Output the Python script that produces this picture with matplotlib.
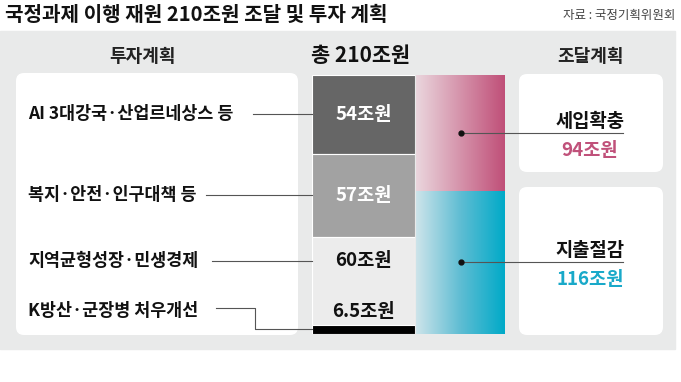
import matplotlib.pyplot as plt
import numpy as np
from matplotlib.patches import FancyBboxPatch, Rectangle
from matplotlib.colors import LinearSegmentedColormap
from matplotlib.transforms import blended_transform_factory

plt.rcParams['font.family'] = ['Noto Sans CJK KR', 'DejaVu Sans']

# data
invest_labels = ["AI 3대강국·산업르네상스 등", "복지·안전·인구대책 등", "지역균형성장·민생경제", "K방산·군장병 처우개선"]
invest_values = [54, 57, 60, 6.5]
invest_text = ["54조원", "57조원", "60조원", "6.5조원"]
fund_labels = ["세입확충", "지출절감"]
fund_values = [94, 116]
fund_text = ["94조원", "116조원"]

W, H = 681, 382
fig = plt.figure(figsize=(W / 100, H / 100), dpi=100)
fig.patch.set_facecolor("white")

bg = fig.add_axes([0, 0, 1, 1])
bg.set_xlim(0, W)
bg.set_ylim(H, 0)
bg.axis("off")


def px_axes(x0, y0, x1, y1):
    return fig.add_axes([x0 / W, 1 - y1 / H, (x1 - x0) / W, (y1 - y0) / H])


# panels
bg.add_patch(Rectangle((0, 31), 675, 318, color="#e9eaea", zorder=0))
for (x0, y0, x1, y1) in [(16, 73, 298, 335), (519, 74, 663, 172), (519, 187, 663, 335)]:
    bg.add_patch(FancyBboxPatch((x0, y0), x1 - x0, y1 - y0,
                                boxstyle="round,pad=0,rounding_size=8",
                                fc="white", ec="none", zorder=1))

# left stacked bar
axL = px_axes(312, 75, 415, 334)
axL.axis("off")
totalL = sum(invest_values)
axL.set_xlim(-0.5, 0.5)
axL.set_ylim(totalL, 0)
seg_colors = ["#666666", "#a2a2a2", "#ececec", "#000000"]
txt_colors = ["white", "white", "#111111", "#111111"]
bottoms = np.concatenate([[0], np.cumsum(invest_values)[:-1]])
axL.bar([0] * 4, invest_values, bottom=bottoms, width=1.0, color=seg_colors,
        edgecolor="white", linewidth=0.8)

# right gradient bar
axR = px_axes(416, 75, 505, 334)
axR.axis("off")
totalR = sum(fund_values)
cmaps = [LinearSegmentedColormap.from_list("p", ["#ead6dd", "#c04f78"]),
         LinearSegmentedColormap.from_list("b", ["#cde4ea", "#5fbdd3", "#00aac8"])]
grad = np.linspace(0, 1, 256).reshape(1, -1)
fb = np.concatenate([[0], np.cumsum(fund_values)[:-1]])
bars = axR.bar([0, 0], fund_values, bottom=fb, width=1.0, color="none", edgecolor="none")
for i, bar in enumerate(bars):
    im = axR.imshow(grad, cmap=cmaps[i], aspect="auto",
                    extent=(-0.5, 0.5, fb[i] + fund_values[i], fb[i]), zorder=1)
    im.set_clip_path(bar)
axR.set_xlim(-0.5, 0.5)
axR.set_ylim(totalR, 0)

# overlay for texts and connectors
top = fig.add_axes([0, 0, 1, 1])
top.set_xlim(0, W)
top.set_ylim(H, 0)
top.axis("off")
top.patch.set_alpha(0)

top.text(5, 14, "국정과제 이행 재원 210조원 조달 및 투자 계획", fontsize=14.5,
         fontweight="bold", va="center", ha="left", color="#111111")
top.text(675, 15, "자료 : 국정기획위원회", fontsize=9, va="center", ha="right", color="#444444")
top.text(143, 56, "투자계획", fontsize=13, fontweight="bold", ha="center", va="center", color="#222222")
top.text(361, 55, "총 210조원", fontsize=15, fontweight="bold", ha="center", va="center", color="#111111")
top.text(591, 56, "조달계획", fontsize=13, fontweight="bold", ha="center", va="center", color="#222222")

label_y = []
for i, (v, b) in enumerate(zip(invest_values, bottoms)):
    if i < 2:
        y = b + v / 2
    elif i == 2:
        y = b + v * 0.27
    else:
        y = b - 9
    label_y.append(y)
    axL.text(0, y, invest_text[i], color=txt_colors[i], fontsize=13.5,
             fontweight="bold", ha="center", va="center")

tr = blended_transform_factory(top.transData, axL.transData)
line_start = [253, 206, 212, 216]
for i, lab in enumerate(invest_labels):
    top.text(28, label_y[i], lab, transform=tr, fontsize=12.5, fontweight="bold",
             ha="left", va="center", color="#111111")
    if i < 3:
        top.plot([line_start[i], 312], [label_y[i], label_y[i]], transform=tr,
                 color="#555555", lw=0.8)
    else:
        yb = bottoms[i] + invest_values[i] / 2
        top.plot([line_start[i], 255, 255, 312], [label_y[i] - 2.5, label_y[i] - 2.5, yb, yb],
                 transform=tr, color="#555555", lw=0.8)

trR = blended_transform_factory(top.transData, axR.transData)
fund_colors = ["#c0517a", "#19a9c9"]
for i, lab in enumerate(fund_labels):
    yc = fb[i] + fund_values[i] / 2
    top.plot([461, 623], [yc, yc], transform=trR, color="#555555", lw=0.8, zorder=3)
    top.plot([461], [yc], "o", transform=trR, color="#111111", ms=3.5, zorder=4)
    top.annotate(lab, xy=(590, yc), xycoords=trR, xytext=(0, 8.5), textcoords="offset points",
                 fontsize=13.5, fontweight="bold", ha="center", va="center", color="#111111")
    top.annotate(fund_text[i], xy=(590, yc), xycoords=trR, xytext=(0, -12.5),
                 textcoords="offset points", fontsize=13.5, fontweight="bold",
                 ha="center", va="center", color=fund_colors[i])

fig.savefig("out.png", dpi=100)
